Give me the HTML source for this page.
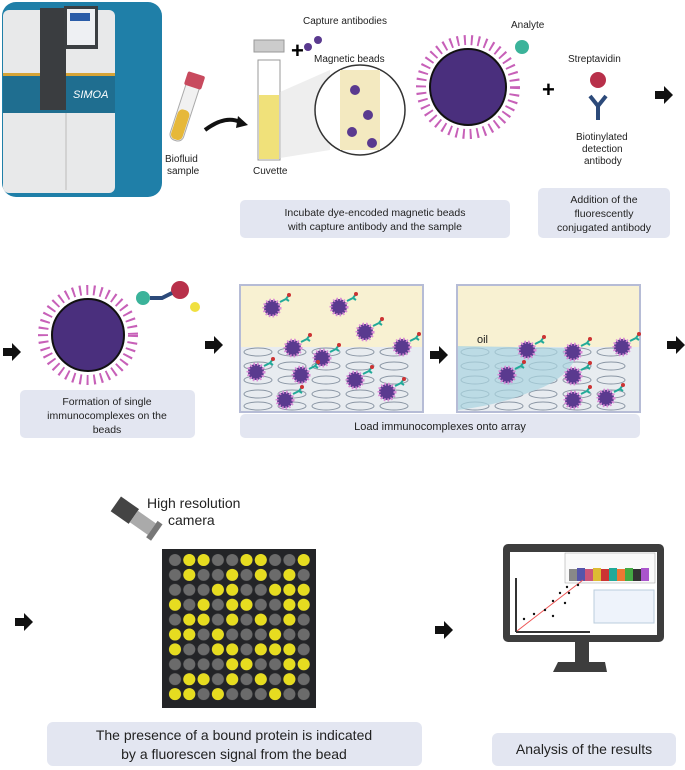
<!DOCTYPE html>
<html><head><meta charset="utf-8"><style>
body{margin:0;background:#fff;width:685px;height:770px;overflow:hidden;font-family:"Liberation Sans",sans-serif}
svg{display:block}
</style></head><body>
<svg width="685" height="770" viewBox="0 0 685 770" xmlns="http://www.w3.org/2000/svg" font-family="Liberation Sans, sans-serif">
<defs>
<g id="arr"><polygon points="0,-4 9,-4 9,-9 18,0 9,9 9,4 0,4" fill="#111"/></g>
<g id="bead"><circle r="8" fill="#5a3a8f" stroke="#d98ad6" stroke-width="3" stroke-dasharray="1.5 2"/><path d="M8,-6 l6,-3 l3,-4 M14,-9 l3,2" stroke="#2a9" stroke-width="2" fill="none"/><circle cx="17" cy="-13" r="2" fill="#c33"/></g>
<circle id="y" r="6" fill="#e6dc20"/>
<pattern id="gp" patternUnits="userSpaceOnUse" x="167.85" y="552.55" width="14.3" height="14.9"><circle cx="7.15" cy="7.45" r="6" fill="#6b6b6b"/></pattern>
</defs>
<!-- SIMOA machine -->
<rect x="2" y="2" width="160" height="195" rx="14" fill="#1f7fa8"/>
<rect x="3" y="10" width="112" height="183" rx="6" fill="#e8e9ea"/>
<rect x="3" y="73" width="112" height="40" fill="#1f6e90"/>
<rect x="3" y="73" width="112" height="3" fill="#d6a437"/>
<rect x="40" y="8" width="26" height="102" fill="#3a3d40"/>
<rect x="64" y="6" width="34" height="43" fill="#3b3f42"/>
<rect x="67" y="9" width="28" height="36" fill="#eef0f3"/>
<rect x="70" y="13" width="20" height="8" fill="#2a5ca8"/>
<text x="73" y="98" font-size="11" font-style="italic" fill="#fff">SIMOA</text>
<line x1="66" y1="113" x2="66" y2="190" stroke="#bbb"/>
<!-- tube -->
<g transform="rotate(18 185 110)"><rect x="178" y="80" width="14" height="62" rx="6" fill="#f1f1f1" stroke="#aaa"/><rect x="179" y="110" width="12" height="31" rx="5" fill="#e6b83a"/><rect x="176" y="72" width="18" height="14" rx="2" fill="#c84a5e"/></g>
<text x="165" y="162" font-size="10" fill="#222">Biofluid</text><text x="167" y="174" font-size="10" fill="#222">sample</text>
<path d="M205 130 Q225 115 240 122" stroke="#111" stroke-width="4" fill="none"/><polygon points="238,116 248,125 236,128" fill="#111"/>
<!-- cuvette -->
<rect x="254" y="40" width="30" height="12" fill="#ccc" stroke="#999"/>
<rect x="258" y="60" width="22" height="100" fill="#fff" stroke="#999"/>
<rect x="259" y="95" width="20" height="64" fill="#f0e17a"/>
<text x="253" y="174" font-size="10" fill="#222">Cuvette</text>
<polygon points="280,92 330,70 330,150 280,158" fill="#ddd" opacity="0.5"/>
<text x="303" y="24" font-size="10" fill="#222">Capture antibodies</text>
<text x="314" y="62" font-size="10" fill="#222">Magnetic beads</text>
<text x="291" y="58" font-size="22" font-weight="bold">+</text>
<circle cx="308" cy="47" r="4" fill="#5a3a8f"/><circle cx="318" cy="40" r="4" fill="#5a3a8f"/>
<circle cx="360" cy="110" r="45" fill="#fff" stroke="#333" stroke-width="1.5"/>
<rect x="340" y="70" width="40" height="80" fill="#f3e9c0"/>
<circle cx="355" cy="90" r="5" fill="#5a3a8f"/><circle cx="368" cy="115" r="5" fill="#5a3a8f"/><circle cx="352" cy="132" r="5" fill="#5a3a8f"/><circle cx="372" cy="143" r="5" fill="#5a3a8f"/>
<!-- big bead -->
<circle cx="468" cy="87" r="47" fill="none" stroke="#c760b8" stroke-width="10" stroke-dasharray="2 5"/>
<circle cx="468" cy="87" r="38" fill="#4a2f7d" stroke="#111" stroke-width="2"/>
<circle cx="522" cy="47" r="7" fill="#3bb39a"/>
<text x="511" y="28" font-size="10" fill="#222">Analyte</text>
<text x="542" y="97" font-size="22" font-weight="bold">+</text>
<text x="568" y="62" font-size="10" fill="#222">Streptavidin</text>
<circle cx="598" cy="80" r="8" fill="#b8304a"/>
<path d="M590 96 l8 10 l8 -10 M598 106 v14" stroke="#2c4a7a" stroke-width="4" fill="none"/>
<text x="576" y="140" font-size="10" fill="#222">Biotinylated</text><text x="582" y="152" font-size="10" fill="#222">detection</text><text x="584" y="164" font-size="10" fill="#222">antibody</text>
<use href="#arr" x="655" y="95"/>
<rect x="240" y="200" width="270" height="38" rx="5" fill="#e3e6f1"/>
<text x="375" y="216" font-size="10.5" text-anchor="middle" fill="#222">Incubate dye-encoded magnetic beads</text>
<text x="375" y="230" font-size="10.5" text-anchor="middle" fill="#222">with capture antibody and the sample</text>
<rect x="538" y="188" width="132" height="50" rx="5" fill="#e3e6f1"/>
<text x="604" y="203" font-size="10.5" text-anchor="middle" fill="#222">Addition of  the</text>
<text x="604" y="217" font-size="10.5" text-anchor="middle" fill="#222">fluorescently</text>
<text x="604" y="231" font-size="10.5" text-anchor="middle" fill="#222">conjugated antibody</text>
<!-- row 2 -->
<use href="#arr" x="3" y="352"/>
<circle cx="88" cy="335" r="45" fill="none" stroke="#c760b8" stroke-width="10" stroke-dasharray="2 5"/>
<circle cx="88" cy="335" r="36" fill="#4a2f7d" stroke="#111" stroke-width="2"/>
<circle cx="143" cy="298" r="7" fill="#3bb39a"/><circle cx="180" cy="290" r="9" fill="#b8304a"/><circle cx="195" cy="307" r="5" fill="#f0e040"/>
<path d="M150 298 l12 0 l10 -5" stroke="#2c4a7a" stroke-width="4" fill="none"/>
<use href="#arr" x="205" y="345"/>
<rect x="20" y="390" width="175" height="48" rx="5" fill="#e3e6f1"/>
<text x="107" y="405" font-size="10.5" text-anchor="middle" fill="#222">Formation of single</text>
<text x="107" y="419" font-size="10.5" text-anchor="middle" fill="#222">immunocomplexes on the</text>
<text x="107" y="433" font-size="10.5" text-anchor="middle" fill="#222">beads</text>
<g id="a1">
<rect x="240" y="285" width="183" height="127" fill="#f8f1d2" stroke="#b6bcd6" stroke-width="2"/>
<rect x="241" y="347" width="181" height="64" fill="#e8ecf0"/>
<g fill="none" stroke="#8a96a4" stroke-width="1">
<ellipse cx="258" cy="352" rx="14" ry="4"/><ellipse cx="292" cy="352" rx="14" ry="4"/><ellipse cx="326" cy="352" rx="14" ry="4"/><ellipse cx="360" cy="352" rx="14" ry="4"/><ellipse cx="394" cy="352" rx="14" ry="4"/>
<ellipse cx="258" cy="366" rx="14" ry="4"/><ellipse cx="292" cy="366" rx="14" ry="4"/><ellipse cx="326" cy="366" rx="14" ry="4"/><ellipse cx="360" cy="366" rx="14" ry="4"/><ellipse cx="394" cy="366" rx="14" ry="4"/>
<ellipse cx="258" cy="380" rx="14" ry="4"/><ellipse cx="292" cy="380" rx="14" ry="4"/><ellipse cx="326" cy="380" rx="14" ry="4"/><ellipse cx="360" cy="380" rx="14" ry="4"/><ellipse cx="394" cy="380" rx="14" ry="4"/>
<ellipse cx="258" cy="394" rx="14" ry="4"/><ellipse cx="292" cy="394" rx="14" ry="4"/><ellipse cx="326" cy="394" rx="14" ry="4"/><ellipse cx="360" cy="394" rx="14" ry="4"/><ellipse cx="394" cy="394" rx="14" ry="4"/>
<ellipse cx="258" cy="406" rx="14" ry="4"/><ellipse cx="292" cy="406" rx="14" ry="4"/><ellipse cx="326" cy="406" rx="14" ry="4"/><ellipse cx="360" cy="406" rx="14" ry="4"/><ellipse cx="394" cy="406" rx="14" ry="4"/>
</g></g>
<use href="#bead" x="272" y="308"/><use href="#bead" x="339" y="307"/><use href="#bead" x="365" y="332"/><use href="#bead" x="293" y="348"/><use href="#bead" x="322" y="358"/><use href="#bead" x="301" y="375"/><use href="#bead" x="256" y="372"/><use href="#bead" x="355" y="380"/><use href="#bead" x="402" y="347"/><use href="#bead" x="387" y="392"/><use href="#bead" x="285" y="400"/>
<use href="#arr" x="430" y="355"/>
<use href="#a1" x="217"/>
<path d="M458 346 L580 348 Q570 380 530 392 Q500 405 458 410 Z" fill="#a9d4df" opacity="0.7"/>
<text x="477" y="343" font-size="11" fill="#222">oil</text>
<use href="#bead" x="527" y="350"/><use href="#bead" x="507" y="375"/><use href="#bead" x="622" y="347"/><use href="#bead" x="573" y="352"/><use href="#bead" x="573" y="376"/><use href="#bead" x="573" y="400"/><use href="#bead" x="606" y="398"/>
<use href="#arr" x="667" y="345"/>
<rect x="240" y="414" width="400" height="24" rx="5" fill="#e3e6f1"/>
<text x="440" y="430" font-size="11" text-anchor="middle" fill="#222">Load immunocomplexes onto array</text>
<!-- row 3 -->
<g transform="rotate(35 130 515)"><rect x="112" y="505" width="22" height="18" fill="#444"/><rect x="134" y="507" width="22" height="14" fill="#aaa"/><rect x="156" y="504" width="6" height="20" fill="#777"/></g>
<text x="147" y="508" font-size="14" fill="#222">High resolution</text>
<text x="168" y="525" font-size="14" fill="#222">camera</text>
<rect x="162" y="549" width="154" height="159" fill="#232427"/>
<rect x="168" y="553" width="143" height="149" fill="url(#gp)"/>
<g>
<use href="#y" x="189.3" y="560"/><use href="#y" x="203.6" y="560"/><use href="#y" x="246.5" y="560"/><use href="#y" x="260.8" y="560"/><use href="#y" x="303.7" y="560"/>
<use href="#y" x="189.3" y="574.9"/><use href="#y" x="232.2" y="574.9"/><use href="#y" x="260.8" y="574.9"/><use href="#y" x="289.4" y="574.9"/>
<use href="#y" x="217.9" y="589.8"/><use href="#y" x="232.2" y="589.8"/><use href="#y" x="275.1" y="589.8"/><use href="#y" x="289.4" y="589.8"/><use href="#y" x="303.7" y="589.8"/>
<use href="#y" x="175" y="604.7"/><use href="#y" x="203.6" y="604.7"/><use href="#y" x="232.2" y="604.7"/><use href="#y" x="246.5" y="604.7"/><use href="#y" x="289.4" y="604.7"/><use href="#y" x="303.7" y="604.7"/>
<use href="#y" x="189.3" y="619.6"/><use href="#y" x="203.6" y="619.6"/><use href="#y" x="232.2" y="619.6"/><use href="#y" x="260.8" y="619.6"/><use href="#y" x="289.4" y="619.6"/>
<use href="#y" x="175" y="634.5"/><use href="#y" x="189.3" y="634.5"/><use href="#y" x="217.9" y="634.5"/><use href="#y" x="275.1" y="634.5"/>
<use href="#y" x="175" y="649.4"/><use href="#y" x="217.9" y="649.4"/><use href="#y" x="232.2" y="649.4"/><use href="#y" x="260.8" y="649.4"/><use href="#y" x="275.1" y="649.4"/><use href="#y" x="289.4" y="649.4"/>
<use href="#y" x="232.2" y="664.3"/><use href="#y" x="246.5" y="664.3"/><use href="#y" x="289.4" y="664.3"/><use href="#y" x="303.7" y="664.3"/>
<use href="#y" x="189.3" y="679.2"/><use href="#y" x="203.6" y="679.2"/><use href="#y" x="232.2" y="679.2"/><use href="#y" x="260.8" y="679.2"/><use href="#y" x="289.4" y="679.2"/>
<use href="#y" x="175" y="694.1"/><use href="#y" x="189.3" y="694.1"/><use href="#y" x="217.9" y="694.1"/><use href="#y" x="275.1" y="694.1"/>
</g>
<use href="#arr" x="15" y="622"/>
<use href="#arr" x="435" y="630"/>
<!-- monitor -->
<rect x="503" y="544" width="161" height="98" rx="5" fill="#3d3d3d"/>
<rect x="510" y="552" width="147" height="83" fill="#fff"/>
<rect x="575" y="642" width="14" height="20" fill="#3d3d3d"/>
<polygon points="558,662 605,662 607,672 553,672" fill="#3d3d3d"/>
<rect x="565" y="553" width="90" height="30" fill="#fafafa" stroke="#999" stroke-width="0.5"/>
<g><rect x="569" y="569" width="8" height="12" fill="#888"/><rect x="577" y="568" width="8" height="13" fill="#55a"/><rect x="585" y="569" width="8" height="12" fill="#c57"/><rect x="593" y="568" width="8" height="13" fill="#db3"/><rect x="601" y="569" width="8" height="12" fill="#c33"/><rect x="609" y="568" width="8" height="13" fill="#2a9"/><rect x="617" y="569" width="8" height="12" fill="#e73"/><rect x="625" y="568" width="8" height="13" fill="#4a4"/><rect x="633" y="569" width="8" height="12" fill="#333"/><rect x="641" y="568" width="8" height="13" fill="#a5c"/></g>
<rect x="594" y="590" width="60" height="33" fill="#eef3fb" stroke="#bcd"/>
<path d="M516 632 V578 M516 632 H590" stroke="#333" stroke-width="2" fill="none"/>
<line x1="517" y1="631" x2="583" y2="580" stroke="#e55" stroke-width="1"/>
<g fill="#111"><circle cx="524" cy="619" r="1.2"/><circle cx="534" cy="614" r="1.2"/><circle cx="545" cy="610" r="1.2"/><circle cx="553" cy="601" r="1.2"/><circle cx="560" cy="593" r="1.2"/><circle cx="567" cy="587" r="1.2"/><circle cx="578" cy="585" r="1.2"/><circle cx="553" cy="616" r="1.2"/><circle cx="565" cy="603" r="1.2"/><circle cx="569" cy="593" r="1.2"/></g>
<rect x="47" y="722" width="375" height="44" rx="6" fill="#e3e6f1"/>
<text x="234" y="740" font-size="14" text-anchor="middle" fill="#222">The presence of a bound protein is indicated</text>
<text x="234" y="759" font-size="14" text-anchor="middle" fill="#222">by a fluorescen signal from the bead</text>
<rect x="492" y="733" width="184" height="33" rx="6" fill="#e3e6f1"/>
<text x="584" y="754" font-size="14" text-anchor="middle" fill="#222">Analysis of the results</text>
</svg>
</body></html>
